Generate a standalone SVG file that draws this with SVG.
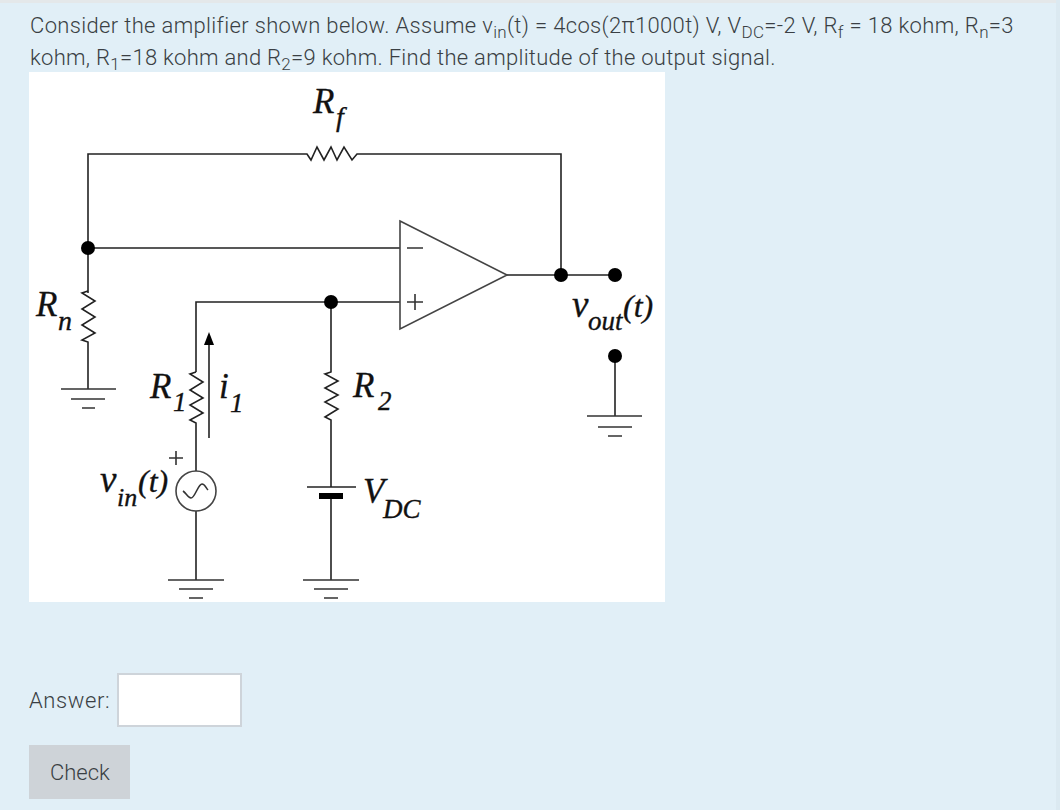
<svg xmlns="http://www.w3.org/2000/svg" width="1060" height="810" viewBox="0 0 1060 810">
<style>
.t{font-family:"Roboto","Liberation Sans",sans-serif;font-weight:300;font-size:22px;fill:#3a3f44;letter-spacing:.34px}
.m{font-family:"Liberation Serif",serif;font-style:italic;fill:#111;stroke:#111;stroke-width:.35}
.w{fill:none;stroke:#222;stroke-width:1.6}
.g{fill:none;stroke:#333;stroke-width:1.6}
.d{fill:#000}
</style>
<rect width="1060" height="810" fill="#e1eff7"/>
<rect width="1060" height="3" fill="#e4e8ea"/>
<rect x="1056" width="4" height="810" fill="#dbe9f1"/>
<g id="question">
<text class="t" x="30" y="32.5">Consider the amplifier shown below. Assume v<tspan dy="5" font-size="17">in</tspan><tspan dy="-5">(t) = 4cos(2π1000t) V, V</tspan><tspan dy="5" font-size="17">DC</tspan><tspan dy="-5">=-2 V, R</tspan><tspan dy="5" font-size="17">f</tspan><tspan dy="-5"> = 18 kohm, R</tspan><tspan dy="5" font-size="17">n</tspan><tspan dy="-5">=3</tspan></text>
<text class="t" x="30" y="65" style="letter-spacing:.28px">kohm, R<tspan dy="5" font-size="17">1</tspan><tspan dy="-5">=18 kohm and R</tspan><tspan dy="5" font-size="17">2</tspan><tspan dy="-5">=9 kohm. Find the amplitude of the output signal.</tspan></text>
</g>
<rect id="figure" x="29" y="72" width="636" height="530" fill="#fff"/>
<g id="connectors">
<path class="w" d="M88 293V154H307L311 160L317 147L324 160L331 147L337 160L344 147L352 160L357 154H561V275"/>
<path class="w" d="M88 291L82 293L95 301L82 309L95 317L82 325L95 333L82 340L88 342V389"/>
<path class="w" d="M88 248H400M196 372V302H400M507 275H615"/>
<path class="w" d="M196 372L190 374L203 382L190 390L203 398L190 405L203 413L190 420L196 423V471M196 511V580"/>
<path class="w" d="M331 302V372L325 374L338 381L325 388L338 395L325 402L338 409L325 417L331 420V487M331 496V580"/>
<path class="w" d="M615 356V416"/>
<path class="w" d="M209 343V438"/>
<path d="M209 332L214 345H204Z" fill="#000"/>
</g>
<g id="opamp">
<path d="M400 221L507 275L400 329Z" fill="none" stroke="#444" stroke-width="1.6"/>
<path class="g" d="M407 248H423M407 302H423M415 294V310"/>
</g>
<g id="junctions">
<circle class="d" cx="88" cy="248" r="7"/>
<circle class="d" cx="331" cy="302" r="7"/>
<circle class="d" cx="561" cy="275" r="7"/>
<circle class="d" cx="615" cy="275" r="7"/>
<circle class="d" cx="615" cy="356" r="7"/>
</g>
<g id="grounds">
<path class="g" d="M61 389H116M71 399H105M82 408H95"/>
<path class="g" d="M168 580H224M179 589H213M189 598H203"/>
<path class="g" d="M303 580H359M314 589H348M324 598H338"/>
<path class="g" d="M587 416H642M598 427H632M608 436H622"/>
</g>
<g id="source">
<circle cx="196" cy="491" r="20" fill="#fff" stroke="#444" stroke-width="1.6"/>
<path class="g" d="M183 491C186 493 188 498 191 498C195 498 198 484 202 484C205 484 206 488 208 490"/>
<path class="g" d="M169 458H183M176 451V465"/>
</g>
<g id="battery">
<path class="w" d="M307 487H356"/>
<rect x="319" y="493" width="24" height="6" fill="#000"/>
</g>
<g id="labels">
<text class="m" x="313" y="113" font-size="35">R</text>
<text class="m" x="336" y="126" font-size="28">f</text>
<text class="m" x="36" y="316" font-size="35">R</text>
<text class="m" x="58" y="330" font-size="28">n</text>
<text class="m" x="150" y="398" font-size="35">R</text>
<text class="m" x="173" y="411" font-size="27">1</text>
<text class="m" x="219" y="398" font-size="35">i</text>
<text class="m" x="230" y="412" font-size="27">1</text>
<text class="m" x="353" y="397" font-size="35">R</text>
<text class="m" x="378" y="410" font-size="27">2</text>
<text class="m" x="100" y="492" font-size="37">v</text>
<text class="m" x="117" y="506" font-size="26">in</text>
<text class="m" x="138" y="492" font-size="32">(t)</text>
<text class="m" x="363" y="503" font-size="35">V</text>
<text class="m" x="383" y="518" font-size="27">DC</text>
<text class="m" x="572" y="317" font-size="37">v</text>
<text class="m" x="588" y="330" font-size="27">out</text>
<text class="m" x="623" y="317" font-size="32">(t)</text>
</g>
<g id="answer">
<text class="t" x="29" y="708" style="letter-spacing:.6px">Answer:</text>
<rect x="118" y="674" width="123" height="52" fill="#fff" stroke="#ced4da" stroke-width="2"/>
</g>
<g id="check">
<rect x="29" y="745" width="101" height="54" fill="#ced3d8"/>
<text class="t" x="50" y="780" style="letter-spacing:0">Check</text>
</g>
</svg>
